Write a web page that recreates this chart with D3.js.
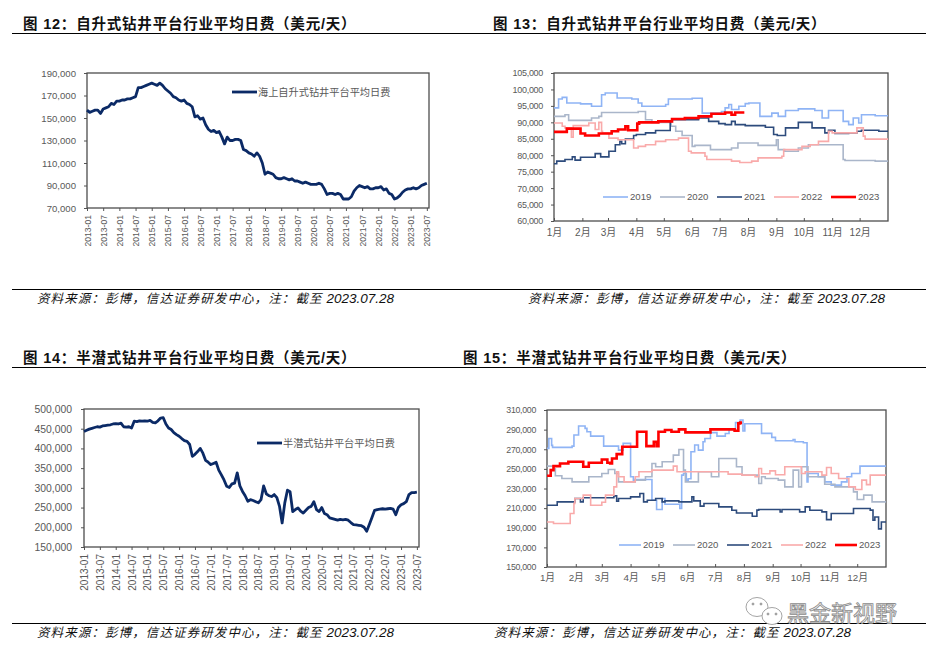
<!DOCTYPE html>
<html lang="zh-CN">
<head>
<meta charset="UTF-8">
<script src="https://d3js.org/d3.v7.min.js"></script>
<title>钻井平台日费</title>
<style>
  body { margin: 0; background: #fff; }
  text { font-family: "Liberation Sans", Arial, "Noto Sans CJK SC", sans-serif; }
</style>
</head>
<body>
<svg id="page" width="930" height="655"></svg>
<script>
// ---- data (千美元/天) ----
const longLabels = ["2013-01","2013-07","2014-01","2014-07","2015-01","2015-07","2016-01","2016-07",
  "2017-01","2017-07","2018-01","2018-07","2019-01","2019-07","2020-01","2020-07","2021-01","2021-07",
  "2022-01","2022-07","2023-01","2023-07"];

// 海上自升式钻井平台平均日费, monthly from 2013-01
const jackupMonthly = [
  157,155,156,157,157,154,158,159,160,163,162,165,
  165,166,166,167,167,168,169,177,177,178,179,180,
  181,180,179,181,179,176,174,172,169,168,166,165,
  166,163,162,160,151,152,149,150,144,140,138,139,
  137,138,133,127,133,130,130,131,131,130,122,121,
  119,118,116,119,116,110,100,102,101,100,97,96,
  96,97,96,95,96,94,94,93,92,93,92,91,
  91,91,92,91,87,82,83,83,82,83,82,78,
  78,78,80,85,88,90,89,88,89,87,87,88,
  88,89,86,87,83,82,78,79,81,84,86,87,
  87,88,87,88,90,91,92
];

// 半潜式钻井平台平均日费, monthly from 2013-01
const semiMonthly = [
  443,446,449,451,453,455,454,457,458,459,460,462,
  463,462,464,455,454,455,452,469,468,470,469,470,
  469,471,466,465,470,477,478,462,452,448,440,435,
  431,425,420,418,410,380,385,392,400,388,370,365,
  359,362,365,345,333,320,304,301,310,312,338,305,
  291,280,266,270,268,265,262,270,305,285,280,278,
  283,275,253,211,262,294,290,240,245,249,241,236,
  243,250,253,265,245,240,250,235,232,224,222,220,
  218,220,219,220,218,212,207,206,205,204,200,190,
  207,225,243,245,246,247,246,247,248,246,232,250,
  257,260,265,283,288,288,289
];

const monthNames = ["1月","2月","3月","4月","5月","6月","7月","8月","9月","10月","11月","12月"];
const monthStartDay = [0,31,59,90,120,151,181,212,243,273,304,334];
const yearNames = ["2019","2020","2021","2022","2023"];

// 自升式 by year: [day of year, value]
const jack2019 = [[0,94.4],[5,97.1],[9,97.6],[14,95.9],[29,95.6],[41,94.9],[52,98.4],[56,98.9],[69,97.4],
  [85,97.1],[92,95.9],[96,94.9],[122,95.4],[125,97.1],[151,97.3],[162,92.8],[183,93.3],[187,94.4],[191,95.4],
  [194,93.9],[202,94.9],[209,95.7],[213,95.9],[225,91.8],[238,92.8],[245,91.8],[253,93.6],[267,94.1],
  [285,93.6],[293,91.3],[300,93.6],[316,90.3],[322,89.3],[327,91.3],[333,89.8],[336,92.3],[351,92.0],[365,92.0]];
const jack2020 = [[0,91.8],[12,92.3],[16,90.6],[41,91.3],[49,91.8],[52,93.0],[92,93.3],[100,90.8],[107,90.0],
  [128,88.8],[133,87.3],[140,86.0],[151,82.7],[154,83.0],[171,81.7],[194,82.2],[201,83.7],[223,83.0],
  [243,84.7],[245,81.7],[252,81.2],[267,82.2],[278,83.2],[316,78.7],[318,78.4],[351,78.2],[365,78.2]];
const jack2021 = [[0,77.4],[3,78.2],[12,78.7],[20,79.5],[23,78.5],[29,79.4],[45,80.5],[51,79.5],[60,81.2],
  [67,83.2],[72,84.2],[74,83.5],[78,84.9],[87,86.0],[90,86.3],[100,86.8],[111,87.5],[127,90.3],[129,90.8],
  [158,91.3],[169,90.3],[180,89.6],[187,89.3],[194,90.3],[198,89.3],[209,89.0],[231,88.5],[240,86.3],
  [244,86.0],[253,88.3],[267,90.0],[282,88.3],[296,86.8],[300,87.6],[307,86.6],[322,86.8],[331,87.3],
  [336,87.6],[355,87.3],[365,87.3]];
const jack2022 = [[0,89.8],[9,88.8],[12,88.3],[19,85.5],[21,89.0],[38,89.8],[45,87.8],[49,90.0],[52,87.3],
  [53,86.8],[60,85.2],[70,84.7],[87,82.2],[92,82.7],[100,83.2],[111,84.2],[122,84.7],[136,85.2],[147,81.2],
  [150,80.7],[165,79.7],[167,78.7],[194,78.2],[203,77.8],[216,78.2],[223,79.2],[249,79.7],[251,81.7],
  [271,82.7],[280,83.2],[289,84.2],[300,87.3],[304,86.8],[331,88.3],[338,85.8],[340,84.9],[365,84.9]];
const jack2023 = [[0,87.1],[14,88.1],[29,86.6],[34,86.0],[49,86.6],[63,87.3],[70,87.8],[78,88.8],[81,87.6],
  [91,89.6],[93,90.0],[114,90.3],[129,91.0],[143,91.3],[158,91.8],[172,92.6],[187,93.0],[194,92.3],
  [198,93.0],[208,93.0]];

// 半潜式 by year: [day of year, value]
const semi2019 = [[0,270.9],[2,281],[5,274],[6,271.9],[27,273.2],[29,284.5],[34,293.7],[41,291.3],[43,287.9],
  [47,283.4],[61,273.2],[77,269.1],[82,276],[90,241.9],[93,238.5],[95,239.2],[113,218.1],[118,208.6],
  [124,219.8],[127,214],[143,209.6],[145,243.6],[147,245.3],[150,238.5],[152,240],[155,267.4],[159,274.3],
  [163,269.1],[168,277.7],[170,281],[176,286.9],[183,283.4],[192,286],[196,290.3],[203,297.1],[208,299.8],
  [211,288.6],[213,296],[231,286.2],[242,282.1],[246,278.7],[265,280],[267,277.7],[276,276.6],[280,236.8],
  [281,245.3],[292,241.9],[299,236.8],[306,233.4],[317,236.8],[323,241.9],[328,245.3],[337,252.8],[365,252.8]];
const semi2020 = [[0,252.8],[7,250],[9,243],[16,240.2],[27,236.8],[45,241.9],[59,245.3],[66,249.4],[73,245.3],
  [77,236.8],[95,238.5],[106,241.9],[113,255.5],[117,252.1],[124,257.2],[136,264],[142,269.8],[147,248.7],
  [149,236.8],[163,247],[177,241.9],[185,260.6],[204,252.1],[210,243.6],[228,235.1],[231,241.9],[235,240.2],
  [249,238.5],[256,231.7],[265,248.7],[271,231.7],[274,252.1],[281,241.9],[299,234.4],[310,231.7],
  [330,226.6],[334,218.8],[341,223.2],[350,216.4],[365,216.4]];
const semi2021 = [[0,213],[11,216.4],[30,219.8],[36,216.4],[39,220.5],[72,222.5],[75,217],[77,219.8],[90,221.5],
  [100,224.9],[104,216.4],[108,218.1],[117,219.8],[124,216.4],[127,217.4],[142,216.4],[156,221.5],[158,217.4],
  [165,212],[169,214.7],[185,211.3],[199,207.9],[204,205.1],[221,201.7],[226,208],[228,208.6],[251,206],
  [253,208.6],[272,206.2],[278,211.3],[283,207.9],[296,206.2],[301,198.3],[306,204.5],[330,209.6],[348,208],
  [351,197.7],[353,201],[357,188.9],[360,195.9],[365,195.9]];
const semi2022 = [[0,195.9],[7,194.3],[25,204.5],[29,214.7],[30,219.8],[39,223.2],[47,213],[59,216],[63,223.2],
  [72,231.7],[75,247],[77,241.9],[83,236.8],[95,241.9],[99,247],[113,248.7],[136,252.8],[140,247],[195,244.6],
  [210,243.6],[224,241.9],[228,250.4],[231,245],[240,248],[246,244],[256,252.1],[274,245.3],[278,247],
  [296,243.6],[301,251.4],[306,245.3],[314,240.2],[325,231.7],[332,229],[339,238.5],[344,234],[348,243.6],
  [365,243.6]];
const semi2023 = [[0,243],[4,248.7],[7,252.8],[14,255.5],[23,257.2],[39,252.1],[45,256.2],[59,259.6],[65,256.2],
  [68,255.5],[70,260.6],[75,265],[81,272.6],[97,287.9],[107,273.2],[115,277.7],[118,273.2],[120,287.9],
  [127,289.6],[134,287.9],[142,290.3],[149,287.2],[176,290.3],[202,288.9],[206,296.4],[208,297.1],[210,297.1]];

const yearColors = ["#8fb4f5", "#aab6ca", "#2d4b7c", "#f9aaaa", "#ff0000"];
const navy = "#0b2a66";
const axisGrey = "#595959";

const svg = d3.select("svg#page");
const fmt = d3.format(",");

// ---- headers / footers ----
function titleBlock(x, y, text) {
  svg.append("text")
    .attr("x", x).attr("y", y)
    .attr("font-family", "'Noto Sans CJK SC', sans-serif")
    .attr("font-weight", "bold")
    .attr("font-size", 14.5)
    .attr("letter-spacing", 0.8)
    .attr("fill", "#111")
    .text(text);
}
function sourceBlock(x, y) {
  const t = svg.append("text")
    .attr("x", x).attr("y", y)
    .attr("font-size", 12.5)
    .attr("font-style", "italic")
    .attr("fill", "#111");
  t.append("tspan").attr("font-family", "'Noto Sans CJK SC', sans-serif")
    .attr("letter-spacing", 1.1)
    .text("资料来源：彭博，信达证券研发中心，注：截至 ");
  t.append("tspan").attr("font-family", "'Liberation Sans', Arial, sans-serif")
    .attr("font-size", 13.5)
    .text("2023.07.28");
}
function rule(y) {
  svg.append("line").attr("x1", 12).attr("x2", 926).attr("y1", y).attr("y2", y)
    .attr("stroke", "#000").attr("stroke-width", 1.2);
}

titleBlock(23, 29, "图 12：自升式钻井平台行业平均日费（美元/天）");
titleBlock(493, 29, "图 13：自升式钻井平台行业平均日费（美元/天）");
titleBlock(23, 363, "图 14：半潜式钻井平台行业平均日费（美元/天）");
titleBlock(463, 363, "图 15：半潜式钻井平台行业平均日费（美元/天）");
rule(33.5); rule(289.5); rule(367.5); rule(623.5);
sourceBlock(37, 303);
sourceBlock(528, 303);
sourceBlock(37, 637);
sourceBlock(494, 637);

function styleAxis(g, size) {
  g.select(".domain").remove();
  g.selectAll(".tick line").attr("stroke", "#555");
  g.selectAll(".tick text").attr("fill", axisGrey).attr("font-size", size);
}

function frame(p) {
  svg.append("rect")
    .attr("x", p.left).attr("y", p.top)
    .attr("width", p.right - p.left).attr("height", p.bottom - p.top)
    .attr("fill", "none").attr("stroke", "#4d4d4d").attr("stroke-width", 1.3);
}

// ---- long history charts (12, 14) ----
function drawLong(p) {
  const x = d3.scaleLinear().domain([0, 126.8]).range([p.left, p.right]);
  const y = d3.scaleLinear().domain([p.yMin, p.yMax]).range([p.bottom, p.top]);

  const yAxis = svg.append("g").attr("transform", `translate(${p.left},0)`)
    .call(d3.axisLeft(y).tickValues(d3.range(p.yMin, p.yMax + 1, p.yStep))
      .tickSize(3).tickPadding(p.yPad).tickFormat(d => fmt(d * 1000)));
  styleAxis(yAxis, p.font);

  const xAxis = svg.append("g").attr("transform", `translate(0,${p.bottom})`)
    .call(d3.axisBottom(x).tickValues(d3.range(0, 127, 6)).tickSize(3)
      .tickFormat((d, i) => longLabels[i]));
  styleAxis(xAxis, p.xFont);
  xAxis.selectAll(".tick text")
    .attr("transform", "rotate(-90)")
    .attr("text-anchor", "end")
    .attr("x", -p.xPad).attr("y", 0).attr("dy", "0.35em");

  frame(p);

  const line = d3.line().x((d, i) => x(i)).y(d => y(d));
  svg.append("path").datum(p.data)
    .attr("fill", "none").attr("stroke", navy).attr("stroke-width", 2.8)
    .attr("stroke-linejoin", "round").attr("d", line);

  svg.append("line").attr("x1", p.legX).attr("x2", p.legX + 25)
    .attr("y1", p.legY).attr("y2", p.legY)
    .attr("stroke", navy).attr("stroke-width", 2.8);
  svg.append("text").attr("x", p.legX + 26).attr("y", p.legY).attr("dy", "0.35em")
    .attr("font-family", "'Noto Sans CJK SC', sans-serif")
    .attr("font-size", 10.2).attr("fill", axisGrey).text(p.legend);
}

drawLong({ left: 87, right: 429, top: 73, bottom: 208, yMin: 70, yMax: 190, yStep: 20,
  yPad: 8, font: 9.6, xFont: 8.6, xPad: 7, data: jackupMonthly,
  legX: 232, legY: 92, legend: "海上自升式钻井平台平均日费" });
drawLong({ left: 84, right: 419, top: 409, bottom: 547, yMin: 150, yMax: 500, yStep: 50,
  yPad: 9, font: 10.4, xFont: 10, xPad: 7, data: semiMonthly,
  legX: 257, legY: 443, legend: "半潜式钻井平台平均日费" });

// ---- year-over-year charts (13, 15) ----
function drawYearly(p) {
  const x = d3.scaleLinear().domain([0, 365]).range([p.left, p.right]);
  const y = d3.scaleLinear().domain([p.yMin, p.yMax]).range([p.bottom, p.top]);

  const yAxis = svg.append("g").attr("transform", `translate(${p.left},0)`)
    .call(d3.axisLeft(y).tickValues(d3.range(p.yMin, p.yMax + 0.1, p.yStep))
      .tickSize(3).tickPadding(8).tickFormat(d => fmt(d * 1000)));
  styleAxis(yAxis, p.font);
  yAxis.selectAll(".tick text").attr("letter-spacing", -0.3);

  const xAxis = svg.append("g").attr("transform", `translate(0,${p.bottom})`)
    .call(d3.axisBottom(x).tickValues(monthStartDay).tickSize(-3).tickPadding(p.xPad)
      .tickFormat((d, i) => monthNames[i]));
  styleAxis(xAxis, p.font + 1);

  frame(p);

  const line = d3.line().x(d => x(d[0])).y(d => y(d[1])).curve(d3.curveStepAfter);
  p.series.forEach((s, i) => {
    svg.append("path").datum(s)
      .attr("fill", "none").attr("stroke", yearColors[i])
      .attr("stroke-width", i === 4 ? 2.6 : 1.6)
      .attr("d", line);
  });

  yearNames.forEach((name, i) => {
    const lx = p.legX + i * p.legStep;
    svg.append("line").attr("x1", lx).attr("x2", lx + p.legLen)
      .attr("y1", p.legY).attr("y2", p.legY)
      .attr("stroke", yearColors[i]).attr("stroke-width", i === 4 ? 2.6 : 1.6);
    svg.append("text").attr("x", lx + p.legLen + 2).attr("y", p.legY).attr("dy", "0.35em")
      .attr("font-size", 9.6).attr("fill", axisGrey).text(name);
  });
}

drawYearly({ left: 554, right: 888, top: 73, bottom: 221, yMin: 60, yMax: 105, yStep: 5,
  font: 9, xPad: 8, series: [jack2019, jack2020, jack2021, jack2022, jack2023],
  legX: 603, legStep: 57, legLen: 25, legY: 197 });
drawYearly({ left: 547, right: 886, top: 410, bottom: 567, yMin: 150, yMax: 310, yStep: 20,
  font: 8.8, xPad: 7, series: [semi2019, semi2020, semi2021, semi2022, semi2023],
  legX: 619, legStep: 54, legLen: 22, legY: 545 });

// ---- watermark ----
const wm = svg.append("g").attr("fill", "#fff").attr("stroke", "#9a9a9a").attr("stroke-width", 0.9);
wm.append("ellipse").attr("cx", 757).attr("cy", 607).attr("rx", 11).attr("ry", 9.5);
wm.append("ellipse").attr("cx", 772).attr("cy", 616).attr("rx", 10).attr("ry", 8.5);
[[753, 604], [761, 604], [768, 614], [776, 614]].forEach(c =>
  wm.append("circle").attr("cx", c[0]).attr("cy", c[1]).attr("r", 1).attr("fill", "#9a9a9a"));
svg.append("text").attr("x", 787).attr("y", 621)
  .attr("font-family", "'Noto Sans CJK SC', sans-serif")
  .attr("font-size", 22).attr("fill", "#f2f2f2")
  .attr("stroke", "#8c8c8c").attr("stroke-width", 0.8)
  .text("黑金新视野");
</script>
</body>
</html>
